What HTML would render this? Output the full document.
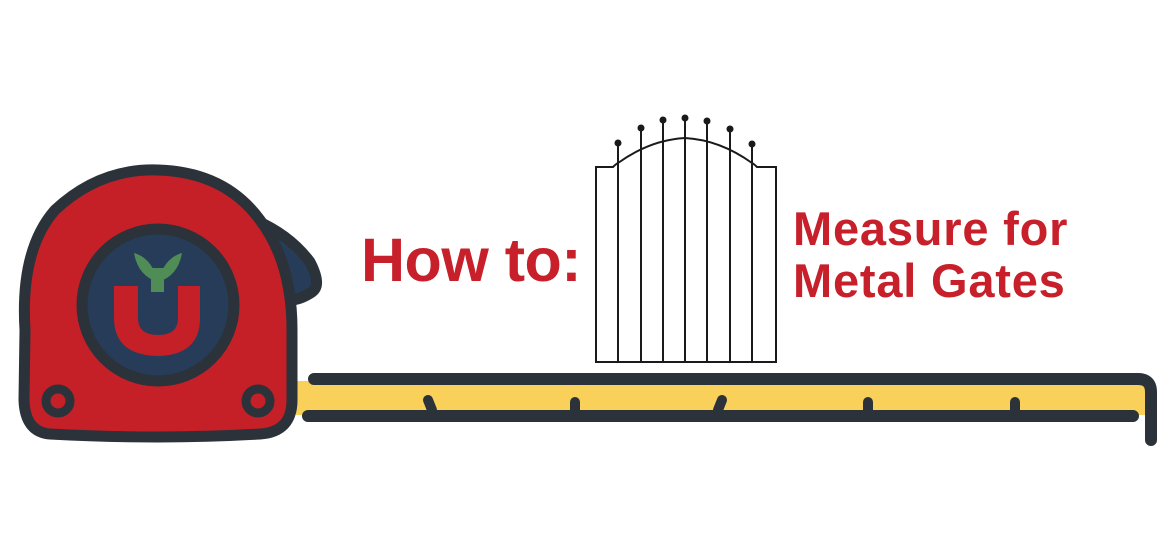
<!DOCTYPE html>
<html><head><style>
body{margin:0;background:#fff;width:1176px;height:542px;overflow:hidden;position:relative;font-family:"Liberation Sans",sans-serif}
.t{position:absolute;color:#c7202b;font-weight:bold;white-space:nowrap}
</style></head><body>
<svg width="1176" height="542" style="position:absolute;left:0;top:0">
<rect x="296" y="381" width="850" height="34" fill="#f8d05a"/>
<path d="M314 379 H1138 Q1151 379 1151 392 V440" fill="none" stroke="#2b3239" stroke-width="12" stroke-linecap="round"/>
<line x1="308" y1="416" x2="1133" y2="416" stroke="#2b3239" stroke-width="12" stroke-linecap="round"/>
<g stroke="#2b3239" stroke-width="10" stroke-linecap="round">
<line x1="428" y1="400" x2="432" y2="410"/><line x1="575" y1="402" x2="575" y2="410"/>
<line x1="722" y1="400" x2="718" y2="410"/><line x1="868" y1="402" x2="868" y2="410"/><line x1="1015" y1="402" x2="1015" y2="410"/>
</g>
<path d="M255 220 Q290 235 310 262 Q322 285 312 292 Q300 300 290 300 Z" fill="#263c58" stroke="#2b3239" stroke-width="11" stroke-linejoin="round"/>
<path d="M25 330 Q20 250 55 210 Q100 168 158 170 Q225 172 260 220 Q292 262 292 330 V400 Q292 432 260 434 Q160 440 50 434 Q25 432 24 400 Z" fill="#c52028" stroke="#2b3239" stroke-width="11" stroke-linejoin="round"/>
<circle cx="158" cy="305" r="76" fill="#263c58" stroke="#2b3239" stroke-width="11"/>
<path d="M114 286 H138 V318 Q138 335 158 335 Q178 335 178 318 V286 H200 V318 Q200 355 158 356 Q114 355 114 318 Z" fill="#c52028"/>
<rect x="151" y="268" width="13" height="24" fill="#4f8c56"/>
<path d="M134 253 Q152 258 158 282 Q138 276 134 253Z" fill="#4f8c56"/>
<path d="M182 253 Q164 258 158 282 Q178 276 182 253Z" fill="#4f8c56"/>
<circle cx="58" cy="401" r="12" fill="#c52028" stroke="#2b3239" stroke-width="9"/>
<circle cx="258" cy="401" r="12" fill="#c52028" stroke="#2b3239" stroke-width="9"/>
<g fill="none" stroke="#1a1a1a" stroke-width="2">
<path d="M596 362 V167 H613 Q616 164 618 163 Q650 140 685 138 Q720 140 752 163 Q754 164 757 167 H776 V362 Z"/>
<path d="M618 362V143 M641 362V128 M663 362V120 M685 362V118 M707 362V121 M730 362V129 M752 362V144"/>
</g>
<g fill="#1a1a1a"><circle cx="618" cy="143" r="3.5"/><circle cx="641" cy="128" r="3.5"/><circle cx="663" cy="120" r="3.5"/><circle cx="685" cy="118" r="3.5"/><circle cx="707" cy="121" r="3.5"/><circle cx="730" cy="129" r="3.5"/><circle cx="752" cy="144" r="3.5"/></g>
</svg>
<div class="t" style="left:361px;top:225px;font-size:61px;letter-spacing:-0.5px">How to:</div>
<div class="t" style="left:793px;top:203px;font-size:47px;line-height:52px;letter-spacing:0.8px">Measure for<br>Metal Gates</div>
</body></html>
